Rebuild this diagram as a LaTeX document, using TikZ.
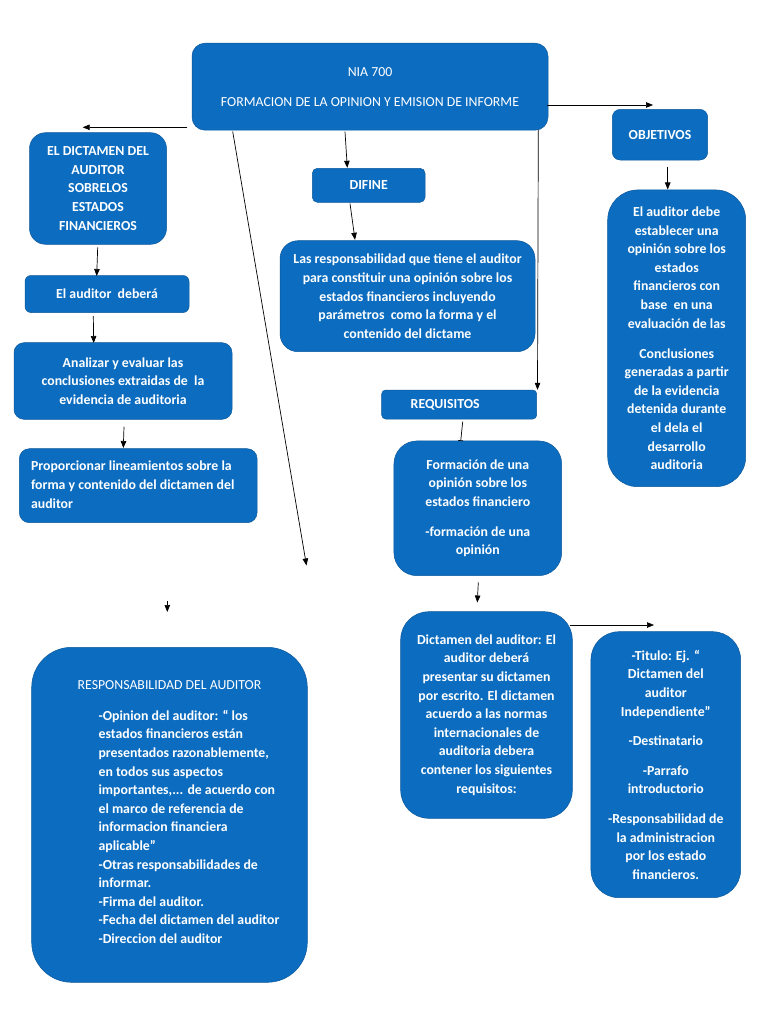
\documentclass[tikz,border=0pt]{standalone}
\usepackage{fontspec}
\setmainfont{Carlito}
\usetikzlibrary{arrows.meta}
\definecolor{nblue}{HTML}{0C6DC0}
\newcommand\bodyfont{\fontsize{13.8}{18.6}\selectfont}
\begin{document}
\begin{tikzpicture}[x=1pt,y=-1pt,
  box/.style={fill=nblue, draw=nblue!80!black, line width=0.5pt, text=white, inner sep=0pt, font=\bodyfont\bfseries, align=center},
  arr/.style={-{Triangle[length=7pt,width=5.5pt]}, line width=0.7pt, black},
  tick/.style={-{Bar[width=5pt]}, line width=0.7pt, black}]
\useasboundingbox[fill=white] (0,0) rectangle (768,1024);

% nodes
\node[box, minimum width=356, minimum height=87, rounded corners=13, font=\bodyfont] (top) at (370,86.7)
  {NIA 700\\[11.4pt]FORMACION DE LA OPINION Y EMISION DE INFORME};

\node[box, minimum width=137, minimum height=111.6, rounded corners=16] (dict) at (98,188.5)
  {EL DICTAMEN DEL\\AUDITOR\\SOBRELOS\\ESTADOS\\FINANCIEROS};

\node[box, minimum width=164, minimum height=37, rounded corners=6] (deb) at (107,294)
  {El auditor\ \ deberá};

\node[box, minimum width=218, minimum height=76.6, rounded corners=10] (anal) at (123,381)
  {Analizar y evaluar las\\conclusiones extraidas de\ \ la\\evidencia de auditoria};

\node[box, minimum width=237.7, minimum height=74, rounded corners=10] (prop) at (138.2,485.7)
  {\begin{tabular}[t]{@{}l@{}}Proporcionar lineamientos sobre la\\forma y contenido del dictamen del\\auditor\end{tabular}\hspace*{11pt}};

\node[box, minimum width=275.6, minimum height=335, rounded corners=40] (resp) at (169.5,814.8)
  {{\fontseries{m}\selectfont RESPONSABILIDAD DEL AUDITOR}\\[12.4pt]
   \hspace*{39pt}\begin{tabular}[t]{@{}l@{}}-Opinion del auditor: “ los\\estados financieros están\\presentados razonablemente,\\en todos sus aspectos\\importantes,... de acuerdo con\\el marco de referencia de\\informacion financiera\\aplicable”\\-Otras responsabilidades de\\informar.\\-Firma del auditor.\\-Fecha del dictamen del auditor\\-Direccion del auditor\end{tabular}};

\node[box, minimum width=112.7, minimum height=34, rounded corners=5] (dif) at (368.7,185.3) {DIFINE};

\node[box, minimum width=255, minimum height=111, rounded corners=18] (las) at (407.5,296.2)
  {Las responsabilidad que tiene el auditor\\para constituir una opinión sobre los\\estados financieros incluyendo\\parámetros\ \ como la forma y el\\contenido del dictame};

\node[box, minimum width=95.4, minimum height=50.7, rounded corners=8] (obj) at (660,134.7) {OBJETIVOS};

\node[box, minimum width=138, minimum height=296.7, rounded corners=30] (objd) at (676.7,338.3)
  {El auditor debe\\establecer una\\opinión sobre los\\estados\\financieros con\\base\ \ en una\\evaluación de las\\[11.4pt]Conclusiones\\generadas a partir\\de la evidencia\\detenida durante\\el dela el\\desarrollo\\auditoria};

\node[box, minimum width=155, minimum height=29, rounded corners=4] (req) at (459.2,404.5) {REQUISITOS\hspace*{28pt}};

\node[box, minimum width=167.7, minimum height=134.7, rounded corners=23] (form) at (477.8,508.3)
  {Formación de una\\opinión sobre los\\estados financiero\\[11pt]-formación de una\\opinión};

\node[box, minimum width=171.6, minimum height=206.6, rounded corners=28] (dic2) at (486.5,715)
  {Dictamen del auditor: El\\auditor deberá\\presentar su dictamen\\por escrito. El dictamen\\acuerdo a las normas\\internacionales de\\auditoria debera\\contener los siguientes\\requisitos:};

\node[box, minimum width=149.7, minimum height=266, rounded corners=28] (tit) at (665.8,764.7)
  {-Titulo: Ej. “\\Dictamen del\\auditor\\Independiente”\\[11pt]-Destinatario\\[11pt]-Parrafo\\introductorio\\[11pt]-Responsabilidad de\\la administracion\\por los estado\\financieros.};

% connector ends
\coordinate (a1s) at (187.3,127.3);  \coordinate (a1e) at (82.7,127.3);
\coordinate (a2s) at (547.3,105);    \coordinate (a2e) at (653,105);
\coordinate (a3s) at (232.7,131.5);  \coordinate (a3e) at (306.5,565.5);
\coordinate (a4s) at (345,131.7);    \coordinate (a4e) at (347.3,167.8);
\coordinate (a5s) at (538.3,130);    \coordinate (a5e) at (537.5,389.8);
\coordinate (a6s) at (350,203.5);    \coordinate (a6e) at (355,239.8);
\coordinate (a7s) at (667.7,166.7);  \coordinate (a7e) at (667.7,189.5);
\coordinate (a8s) at (97.7,247.3);   \coordinate (a8e) at (96.7,276);
\coordinate (a9s) at (93.3,316);     \coordinate (a9e) at (93.7,343);
\coordinate (a10s) at (124,426.7);   \coordinate (a10e) at (123.3,448);
\coordinate (a11s) at (167.3,601);   \coordinate (a11e) at (167.3,612);
\coordinate (a12s) at (462.7,421.7); \coordinate (a12e) at (460.7,441);
\coordinate (a13s) at (478.3,582.3); \coordinate (a13e) at (477.3,602.5);
\coordinate (a14s) at (569.7,625);   \coordinate (a14e) at (654,625);

\draw[arr] (a1s) -- (a1e);
\draw[arr] (a2s) -- (a2e);
\draw[arr] (a3s) -- (a3e);
\draw[arr] (a4s) -- (a4e);
\draw[arr] (a5s) -- (a5e);
\draw[arr] (a6s) -- (a6e);
\draw[arr] (a7s) -- (a7e);
\draw[arr] (a8s) -- (a8e);
\draw[arr] (a9s) -- (a9e);
\draw[arr] (a10s) -- (a10e);
\draw[arr] (a11s) -- (a11e);
\draw[tick] (a12s) -- (a12e);
\draw[arr] (a13s) -- (a13e);
\draw[arr] (a14s) -- (a14e);
\end{tikzpicture}
\end{document}
